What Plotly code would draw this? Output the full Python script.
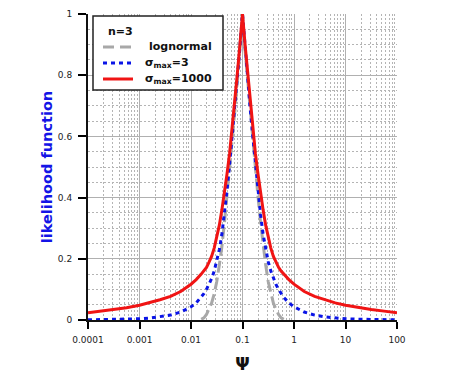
import plotly.graph_objects as go

psi = [1e-4, 1.8e-4, 3.2e-4, 5.6e-4, 1e-3, 1.6e-3, 2.5e-3, 4e-3, 6.3e-3, 0.01,
       0.0126, 0.0158, 0.0178, 0.02, 0.0224, 0.0251, 0.0282, 0.0316, 0.0355, 0.0398,
       0.0447, 0.0501, 0.0562, 0.0631, 0.0708, 0.0794, 0.0891, 0.1,
       0.1122, 0.1259, 0.1413, 0.1585, 0.1778, 0.1995, 0.2239, 0.2512, 0.2818, 0.3162,
       0.3548, 0.3981, 0.4467, 0.5012, 0.5623, 0.631, 0.7943, 1.0, 1.585, 2.512,
       3.981, 6.31, 10, 17.8, 31.6, 56.2, 100]

lognormal = [None, None, None, None, None, None, None, None, None, None,
             None, 0.002, 0.007, 0.018, 0.035, 0.055, 0.085, 0.125, 0.18, 0.24,
             0.32, 0.405, 0.495, 0.585, 0.68, 0.78, 0.88, 1.0,
             0.88, 0.78, 0.68, 0.585, 0.495, 0.405, 0.32, 0.24, 0.18, 0.125,
             0.085, 0.055, 0.035, 0.018, 0.007, 0.002, None, None, None, None,
             None, None, None, None, None, None, None]

sigma_max_3 = [0.0006, 0.001, 0.0015, 0.0025, 0.004, 0.0065, 0.01, 0.016, 0.026, 0.043,
               0.056, 0.074, 0.086, 0.1, 0.116, 0.135, 0.16, 0.19, 0.23, 0.28,
               0.345, 0.425, 0.51, 0.6, 0.69, 0.785, 0.89, 1.0,
               0.89, 0.785, 0.69, 0.6, 0.51, 0.425, 0.345, 0.28, 0.23, 0.19,
               0.16, 0.135, 0.116, 0.1, 0.086, 0.074, 0.056, 0.043, 0.026, 0.016,
               0.01, 0.0065, 0.004, 0.0025, 0.0015, 0.001, 0.0006]

sigma_max_1000 = [0.024, 0.029, 0.034, 0.04, 0.048, 0.056, 0.066, 0.077, 0.093, 0.117,
                  0.132, 0.150, 0.160, 0.172, 0.189, 0.208, 0.235, 0.268, 0.31, 0.36,
                  0.415, 0.478, 0.545, 0.625, 0.715, 0.805, 0.90, 1.0,
                  0.90, 0.805, 0.715, 0.625, 0.545, 0.478, 0.415, 0.36, 0.31, 0.268,
                  0.235, 0.208, 0.189, 0.172, 0.160, 0.150, 0.132, 0.117, 0.093, 0.077,
                  0.066, 0.056, 0.048, 0.04, 0.034, 0.029, 0.024]

series_names = ["lognormal", "σ<sub>max</sub>=3", "σ<sub>max</sub>=1000"]
legend_title = "n=3"

x_major_ticks = [1e-4, 1e-3, 1e-2, 1e-1, 1, 10, 100]
decades = [1e-4, 1e-3, 1e-2, 1e-1, 1, 10]
mantissas = [2, 3, 4, 5, 6, 7, 8, 9]
x_minor_ticks = [m * d for d in decades for m in mantissas]
y_major_ticks = [0, 0.2, 0.4, 0.6, 0.8, 1]
y_minor_ticks = [0.05, 0.1, 0.15, 0.25, 0.3, 0.35, 0.45, 0.5, 0.55, 0.65, 0.7, 0.75, 0.85, 0.9, 0.95]

FONT = "DejaVu Sans"
styles = [
    dict(color="#a8a8a8", width=3, dash="12px,5px"),
    dict(color="#0a14e6", width=3, dash="4px,4px"),
    dict(color="#f01414", width=3),
]
swatch_dash = ["11px,6px", "4px,4px", None]

# plot-area geometry (pixels) used for legend placement and tick-mark offsets
PX0, PW, PY1, PH = 88, 309, 320, 306
X_LOG_MIN, X_DECADES = -4, 6
PX_PER_DECADE = PW / X_DECADES

fig = go.Figure()
for name, ys, st in zip(series_names, [lognormal, sigma_max_3, sigma_max_1000], styles):
    fig.add_trace(go.Scatter(x=psi, y=ys, mode="lines", name=name, line=st, showlegend=False))

# outside tick marks, drawn as line markers just beyond the axes
def x_tick_trace(vals, length):
    return go.Scatter(x=vals, y=[-(length / 2) / PH] * len(vals), mode="markers",
                      marker=dict(symbol="line-ns", size=length, color="#000",
                                  line=dict(color="#000", width=1.5)),
                      cliponaxis=False, showlegend=False, hoverinfo="skip")

def y_tick_trace(vals, length):
    xv = 10 ** (X_LOG_MIN - (length / 2) / PX_PER_DECADE)
    return go.Scatter(x=[xv] * len(vals), y=vals, mode="markers",
                      marker=dict(symbol="line-ew", size=length, color="#000",
                                  line=dict(color="#000", width=1.5)),
                      cliponaxis=False, showlegend=False, hoverinfo="skip")

fig.add_trace(x_tick_trace(x_major_ticks, 7))
fig.add_trace(x_tick_trace(x_minor_ticks, 5))
fig.add_trace(y_tick_trace(y_major_ticks, 8))
fig.add_trace(y_tick_trace(y_minor_ticks, 5))

grid_major = "#b0b0b0"
grid_minor = "#b4b4b4"

fig.update_layout(
    xaxis=dict(
        type="log", range=[X_LOG_MIN, X_LOG_MIN + X_DECADES], automargin=False,
        tickmode="linear", tick0=0, dtick=1, exponentformat="none",
        ticks="outside", ticklen=7, tickwidth=1.5, tickcolor="#000",
        showline=True, linecolor="#111", linewidth=2,
        showgrid=True, gridcolor=grid_major, gridwidth=1,
        minor=dict(tickmode="linear", dtick="D1", ticks="",
                   showgrid=True, gridcolor=grid_minor, griddash="2px,2px", gridwidth=1),
        tickfont=dict(family=FONT, size=9, color="#222"), ticklabelstandoff=3,
        title=dict(text="<b>Ψ</b>", font=dict(family=FONT, size=17, color="#111"), standoff=14),
        zeroline=False,
    ),
    yaxis=dict(
        range=[0, 1], automargin=False,
        tickmode="linear", tick0=0, dtick=0.2,
        ticks="outside", ticklen=8, tickwidth=1.5, tickcolor="#000",
        showline=True, linecolor="#111", linewidth=2,
        showgrid=True, gridcolor=grid_major, gridwidth=1,
        minor=dict(tickmode="linear", tick0=0, dtick=0.05, ticks="",
                   showgrid=True, gridcolor=grid_minor, griddash="2px,2px", gridwidth=1),
        tickfont=dict(family=FONT, size=9, color="#222"), ticklabelstandoff=4,
        title=dict(text="<b>likelihood function</b>", font=dict(family=FONT, size=14.5, color="#1414e6"), standoff=2),
        zeroline=False,
    ),
)

def fx(px):
    return (px - PX0) / PW
def fy(py):
    return (PY1 - py) / PH

shapes = [dict(type="rect", xref="paper", yref="paper", x0=fx(93), x1=fx(223), y0=fy(90), y1=fy(16),
               line=dict(color="#222", width=1.5), fillcolor="white", layer="above")]
annotations = [dict(xref="paper", yref="paper", x=fx(120), y=fy(31), text="<b>" + legend_title + "</b>",
                    showarrow=False, xanchor="center", yanchor="middle",
                    font=dict(family=FONT, size=11, color="#111"))]
row_y = [47, 63, 79]
text_x = [147, 143, 143]
for i, name in enumerate(series_names):
    ln = dict(color=styles[i]["color"], width=3)
    if swatch_dash[i]:
        ln["dash"] = swatch_dash[i]
    shapes.append(dict(type="line", xref="paper", yref="paper", x0=fx(103), x1=fx(133),
                       y0=fy(row_y[i]), y1=fy(row_y[i]), line=ln, layer="above"))
    annotations.append(dict(xref="paper", yref="paper", x=fx(text_x[i]), y=fy(row_y[i]),
                            text="<b>" + name + "</b>", showarrow=False,
                            xanchor="left", yanchor="middle",
                            font=dict(family=FONT, size=11, color="#111")))

fig.update_layout(
    width=466, height=374,
    margin=dict(l=80, r=77, t=6, b=62, autoexpand=False),
    paper_bgcolor="white", plot_bgcolor="white",
    showlegend=False,
    shapes=shapes, annotations=annotations,
)

fig.write_html("out.html")
